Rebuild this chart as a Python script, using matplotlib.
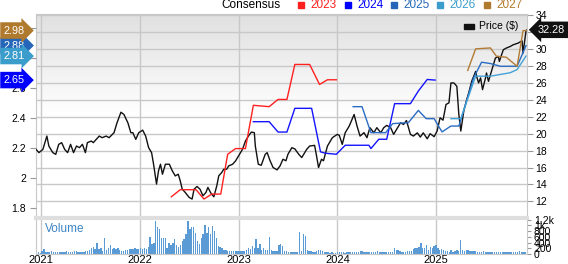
import numpy as np
import matplotlib
import matplotlib.pyplot as plt
from matplotlib.colors import LinearSegmentedColormap
from matplotlib.patches import Rectangle
from matplotlib.ticker import FuncFormatter
from matplotlib.transforms import blended_transform_factory

matplotlib.use('Agg')
plt.rcParams['font.family'] = ['Liberation Sans', 'DejaVu Sans']

# weekly closing price, x in decimal years
price_years = [2020.95, 2020.98, 2021.02, 2021.06, 2021.08, 2021.12, 2021.15, 2021.18, 2021.21, 2021.24,
               2021.27, 2021.30, 2021.33, 2021.36, 2021.39, 2021.42, 2021.45, 2021.47, 2021.51, 2021.53,
               2021.56, 2021.59, 2021.62, 2021.66, 2021.69, 2021.74, 2021.77, 2021.81, 2021.84, 2021.88,
               2021.91, 2021.93, 2021.96, 2021.99, 2022.03, 2022.06, 2022.09, 2022.12, 2022.14, 2022.17,
               2022.19, 2022.21, 2022.23, 2022.26, 2022.30, 2022.33, 2022.36, 2022.39, 2022.41, 2022.43,
               2022.46, 2022.50, 2022.53, 2022.55, 2022.58, 2022.61, 2022.64, 2022.67, 2022.69, 2022.72,
               2022.75, 2022.78, 2022.80, 2022.83, 2022.85, 2022.88, 2022.90, 2022.94, 2022.97, 2023.00,
               2023.04, 2023.07, 2023.10, 2023.13, 2023.16, 2023.17, 2023.20, 2023.23, 2023.27, 2023.29,
               2023.32, 2023.35, 2023.39, 2023.42, 2023.45, 2023.48, 2023.50, 2023.54, 2023.57, 2023.61,
               2023.64, 2023.69, 2023.72, 2023.77, 2023.79, 2023.81, 2023.84, 2023.86, 2023.90, 2023.95,
               2024.00, 2024.02, 2024.05, 2024.08, 2024.12, 2024.17, 2024.20, 2024.23, 2024.27, 2024.30,
               2024.33, 2024.37, 2024.40, 2024.44, 2024.47, 2024.50, 2024.54, 2024.57, 2024.60, 2024.64,
               2024.67, 2024.70, 2024.74, 2024.77, 2024.81, 2024.84, 2024.87, 2024.91, 2024.94, 2024.98,
               2025.01, 2025.04, 2025.07, 2025.10, 2025.13, 2025.15, 2025.18, 2025.21, 2025.23, 2025.25,
               2025.28, 2025.31, 2025.33, 2025.36, 2025.40, 2025.41, 2025.43, 2025.45, 2025.47, 2025.50,
               2025.51, 2025.53, 2025.56, 2025.60, 2025.63, 2025.64, 2025.68, 2025.71, 2025.75, 2025.78,
               2025.83, 2025.87, 2025.88, 2025.91, 2025.92]
price_values = [18.15, 17.76, 18.15, 19.72, 18.54, 17.76, 17.56, 18.74, 18.94, 18.15,
                17.76, 18.74, 17.76, 18.54, 18.35, 18.74, 17.76, 18.94, 19.13, 18.94,
                19.33, 19.72, 19.53, 19.72, 19.53, 20.12, 21.29, 22.54, 22.27, 21.29,
                20.12, 20.12, 19.33, 20.12, 20.42, 19.72, 18.35, 17.76, 16.39, 14.04,
                15.60, 16.39, 15.21, 16.39, 16.39, 15.60, 15.01, 15.21, 14.42, 13.45,
                13.06, 12.47, 12.27, 13.44, 13.76, 13.44, 12.66, 13.05, 13.65, 12.98,
                12.54, 13.84, 15.02, 15.41, 15.80, 15.80, 16.19, 16.39, 16.78, 17.36,
                18.15, 19.13, 19.72, 20.19, 20.12, 18.54, 16.39, 16.27, 17.56, 17.76,
                16.78, 16.00, 15.72, 16.19, 16.98, 16.80, 17.56, 18.35, 18.20, 17.56,
                17.18, 18.15, 18.54, 18.62, 17.36, 16.00, 16.98, 16.80, 18.54, 19.53,
                19.92, 19.80, 18.74, 20.12, 20.89, 22.27, 20.89, 19.72, 20.12, 19.53,
                20.71, 20.12, 20.71, 20.12, 20.71, 20.98, 20.71, 19.92, 20.50, 21.29,
                21.09, 21.56, 19.92, 19.72, 20.10, 19.60, 20.10, 19.40, 20.00, 19.65,
                20.31, 21.88, 21.60, 23.45, 23.65, 26.00, 26.00, 25.60, 22.27, 20.31,
                22.66, 24.04, 24.82, 26.19, 27.36, 26.80, 26.00, 26.60, 25.21, 26.59,
                27.18, 26.19, 27.36, 28.94, 29.13, 28.54, 29.92, 30.12, 30.31, 30.51,
                30.71, 30.98, 29.53, 32.15, 32.28]

# consensus EPS estimates per fiscal year
eps23_years = [2022.32, 2022.41, 2022.57, 2022.65, 2022.73, 2022.82, 2022.89, 2022.97, 2023.07,
               2023.15, 2023.31, 2023.40, 2023.49, 2023.57, 2023.72, 2023.82, 2023.90, 2023.99]
eps23 = [1.873, 1.920, 1.920, 1.858, 1.891, 1.891, 2.156, 2.194, 2.194,
         2.482, 2.473, 2.521, 2.521, 2.754, 2.754, 2.621, 2.652, 2.652]

eps24_years = [2023.15, 2023.31, 2023.40, 2023.49, 2023.57, 2023.74, 2023.83, 2023.88, 2023.99, 2024.08,
               2024.32, 2024.34, 2024.42, 2024.50, 2024.58, 2024.74, 2024.82, 2024.91, 2024.99]
eps24 = [2.373, 2.373, 2.304, 2.304, 2.462, 2.462, 2.172, 2.163, 2.156, 2.216,
         2.216, 2.194, 2.256, 2.256, 2.493, 2.493, 2.577, 2.654, 2.65]

eps25_years = [2024.16, 2024.25, 2024.34, 2024.49, 2024.56, 2024.72, 2024.82, 2024.90, 2024.98,
               2025.06, 2025.15, 2025.23, 2025.38, 2025.46, 2025.55, 2025.65, 2025.82, 2025.91]
eps25 = [2.473, 2.473, 2.300, 2.300, 2.360, 2.367, 2.448, 2.393, 2.393,
         2.305, 2.344, 2.344, 2.665, 2.769, 2.760, 2.742, 2.742, 2.88]

eps26_years = [2025.15, 2025.25, 2025.40, 2025.55, 2025.75, 2025.82, 2025.91]
eps26 = [2.393, 2.393, 2.676, 2.676, 2.699, 2.720, 2.81]

eps27_years = [2025.32, 2025.40, 2025.55, 2025.61, 2025.71, 2025.82, 2025.88, 2025.92]
eps27 = [2.714, 2.858, 2.864, 2.809, 2.802, 2.742, 2.979, 2.98]

# weekly volume (thousands), first week starts mid-Dec 2020
vol_start = 2020.955
volume = [380, 60, 50, 110, 190, 70, 80, 60, 90, 70,
          60, 75, 80, 60, 70, 85, 95, 60, 70, 80,
          120, 90, 70, 60, 75, 80, 95, 110, 150, 200,
          250, 160, 390, 180, 200, 120, 550, 150, 200, 310,
          180, 215, 170, 200, 130, 90, 110, 130, 150, 170,
          190, 160, 210, 180, 170, 200, 190, 210, 180, 240,
          607, 357, 393, 1142, 928, 869, 571, 571, 571, 214,
          369, 300, 369, 512, 298, 250, 310, 452, 535, 690,
          1142, 869, 928, 952, 750, 452, 357, 571, 714, 1023,
          750, 928, 714, 988, 809, 571, 274, 238, 214, 150,
          130, 120, 110, 100, 120, 100, 110, 90, 100, 120,
          100, 150, 214, 180, 274, 200, 512, 214, 333, 150,
          214, 130, 150, 595, 150, 120, 100, 110, 298, 333,
          274, 95, 90, 75, 65, 60, 70, 65, 70, 785,
          95, 714, 630, 155, 120, 90, 70, 80, 90, 155,
          155, 100, 70, 60, 55, 50, 55, 45, 50, 60,
          55, 70, 60, 50, 55, 60, 65, 55, 60, 70,
          80, 120, 90, 70, 60, 65, 70, 80, 75, 70,
          95, 80, 70, 60, 55, 65, 70, 75, 80, 214,
          150, 130, 90, 70, 60, 70, 90, 100, 120, 178,
          200, 214, 238, 369, 214, 214, 310, 155, 238, 214,
          274, 310, 214, 155, 190, 140, 120, 90, 60, 155,
          70, 120, 155, 120, 476, 155, 120, 130, 155, 120,
          120, 100, 90, 80, 75, 85, 90, 80, 70, 75,
          80, 70, 75, 70, 80, 75, 60, 70, 75, 70,
          80, 75, 70, 80, 75, 90, 80, 70, 60]

year_ticks = [2021, 2022, 2023, 2024, 2025]
series_names = ['2023', '2024', '2025', '2026', '2027']
series_colors = ['#ff2020', '#1414ff', '#2a6cc4', '#43a2d6', '#b37c35']
label_colors = ['#ff2020', '#0000ff', '#2566b8', '#3b9dcc', '#b07a2e']

W, H = 568, 264
GRID = '#c8c8c8'


def box(l, t, r, b):
    return [l / W, 1 - b / H, (r - l) / W, (b - t) / H]


fig = plt.figure(figsize=(W / 100, H / 100), dpi=100)
ax = fig.add_axes(box(36, 14, 527, 216))
axv = fig.add_axes(box(36, 218, 527, 254), sharex=ax)
ax_e = ax.twinx()

# background gradient
bg = LinearSegmentedColormap.from_list('bg', ['#ffffff', '#ffffff', '#e0e0e0'])
ax.imshow(np.linspace(1, 0, 256).reshape(-1, 1), cmap=bg, aspect='auto',
          extent=[0, 1, 0, 1], transform=ax.transAxes, zorder=0)
ax.set_facecolor('none')

# price line
ax.plot(price_years, price_values, color='#111111', lw=1.0, zorder=3)
ax.set_xlim(2020.95, 2025.92)
ax.set_ylim(10.27, 34.15)
ax.set_yticks(range(12, 35, 2))
ax.set_xticks(year_ticks)
ax.grid(True, color=GRID, lw=1)
ax.set_axisbelow(True)
ax.yaxis.tick_right()
ax.tick_params(axis='y', length=4, color='#999999', labelsize=7.5, pad=2)
ax.tick_params(axis='x', bottom=False, labelbottom=False)
for s in ['left', 'right', 'top']:
    ax.spines[s].set_color(GRID)
ax.spines['bottom'].set_visible(False)

# EPS lines
eps_data = [(eps23_years, eps23), (eps24_years, eps24), (eps25_years, eps25),
            (eps26_years, eps26), (eps27_years, eps27)]
for (xs, ys), col in zip(eps_data, series_colors):
    ax_e.plot(xs, ys, color=col, lw=1.0)
ax_e.set_ylim(1.745, 3.09)
ax_e.set_yticks([1.8, 2.0, 2.2, 2.4, 2.6, 2.8, 3.0])
ax_e.yaxis.set_major_formatter(FuncFormatter(lambda v, p: '%g' % round(v, 1)))
ax_e.yaxis.tick_left()
ax_e.tick_params(axis='y', length=4, color='#999999', labelsize=7.5, pad=3)
for s in ax_e.spines.values():
    s.set_visible(False)

# volume
vol_years = vol_start + np.arange(len(volume)) * 7 / 365.25
axv.bar(vol_years, volume, width=0.014, color='#5b9bd5', lw=0)
axv.set_ylim(0, 1260)
axv.set_yticks([0, 200, 400, 600, 800, 1000, 1200])
axv.set_yticklabels(['0', '200', '400', '600', '800', '1k', '1.2k'])
axv.yaxis.tick_right()
axv.tick_params(axis='y', length=3, color='#999999', labelsize=7.5, pad=2)
axv.tick_params(axis='x', length=0, labelsize=8, pad=0.5)
axv.set_xticks(year_ticks)
axv.set_xticklabels([str(y) for y in year_ticks])
axv.grid(True, axis='x', color=GRID, lw=1)
axv.set_axisbelow(True)
for s in ['left', 'right', 'bottom']:
    axv.spines[s].set_color(GRID)
axv.spines['top'].set_color('#dedede')
axv.spines['top'].set_linewidth(3)
axv.text(45 / W, 1 - 229 / H, 'Volume', transform=fig.transFigure, fontsize=8.5,
         color='#3d85c6', va='center')

# top legend
fig.text(280 / W, 1 - 5 / H, 'Consensus', ha='right', va='center', fontsize=8.5)
sq_x = [298, 345, 391, 437, 484]
for name, col, x0 in zip(series_names, label_colors, sq_x):
    fig.add_artist(Rectangle((x0 / W, 1 - 8 / H), 6 / W, 6 / H, color=col,
                             transform=fig.transFigure))
    fig.text((x0 + 12) / W, 1 - 5 / H, name, color=col, va='center', fontsize=8.5)

# price legend
fig.add_artist(Rectangle((464 / W, 1 - 28.5 / H), 10 / W, 4.5 / H, color='#111111',
                         transform=fig.transFigure))
fig.text(479 / W, 1 - 26 / H, 'Price ($)', va='center', fontsize=7.5)

# last-value labels
left_tr = blended_transform_factory(fig.transFigure, ax_e.transData)
for (xs, ys), col in [(eps_data[2], label_colors[2]), (eps_data[4], label_colors[4]),
                      (eps_data[3], label_colors[3]), (eps_data[1], label_colors[1])]:
    fig.text(3.5 / W, ys[-1], '%.2f' % ys[-1], transform=left_tr, color='white',
             fontsize=7.8, va='center', ha='left',
             bbox=dict(boxstyle='rarrow,pad=0.3', fc=col, ec='none'))

right_tr = blended_transform_factory(fig.transFigure, ax.transData)
fig.text(538 / W, price_values[-1], '%.2f' % price_values[-1], transform=right_tr,
         color='white', fontsize=7.8, va='center', ha='left',
         bbox=dict(boxstyle='larrow,pad=0.3', fc='#111111', ec='none'))

fig.savefig('out.png', dpi=100)
plt.close(fig)
